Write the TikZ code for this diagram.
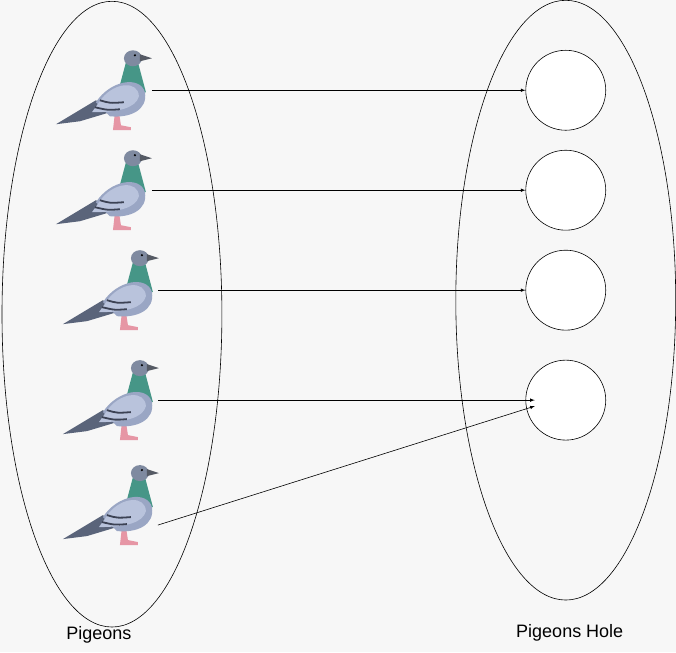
\documentclass[tikz,border=0pt]{standalone}
\usepackage{fontspec}
\setmainfont{Liberation Sans}
\usetikzlibrary{shapes.geometric}
\definecolor{bg}{RGB}{247,247,247}
\definecolor{ptail}{RGB}{90,100,122}
\definecolor{pleg}{RGB}{230,150,165}
\definecolor{pbody}{RGB}{154,166,196}
\definecolor{pneck}{RGB}{70,150,135}
\definecolor{phead}{RGB}{127,138,160}
\definecolor{pbeak}{RGB}{85,90,100}
\definecolor{pwing}{RGB}{185,195,220}
\definecolor{pstripe}{RGB}{60,66,84}
\begin{document}
\begin{tikzpicture}[x=1pt,y=-1pt,
  conn/.style={-latex,black,line width=0.6pt},
  hole/.style={draw,circle,minimum size=80pt,inner sep=0pt,fill=white,line width=0.6pt},
  lbl/.style={font=\fontsize{18}{20}\selectfont},
  pigeon/.pic={
    \fill[ptail] (56,124)--(96,100)--(110,112)--(80,121)--cycle;
    \fill[pleg] (119,112)--(121,125)--(131,127)--(131,130)--(113,130)--(115,112)--cycle;
    \fill[pneck] (126,62)--(138,62)--(146,92)--(118,92)--cycle;
    \fill[pbody] (96,102) .. controls (110,80) and (140,75) .. (145,92) .. controls (148,110) and (130,118) .. (110,116) -- cycle;
    \fill[phead] (133,58) ellipse[x radius=9,y radius=8];
    \fill[pbeak] (140,54)--(152,58)--(140,61)--cycle;
    \fill[black] (135,55) circle[radius=1.2];
    \fill[pwing] (102,98) .. controls (115,82) and (138,80) .. (139,96) .. controls (136,108) and (118,112) .. (92,112) -- cycle;
    \draw[line width=1.8pt,pstripe] (100,100) .. controls (110,103) .. (124,102);
    \draw[line width=1.8pt,pstripe] (95,107) .. controls (108,110) .. (120,109);
  }]
\fill[bg] (0,0) rectangle (676,652);
\node[draw,ellipse,minimum width=220pt,minimum height=626pt,line width=0.6pt] (pe) at (112,314) {};
\node[draw,ellipse,minimum width=220pt,minimum height=600pt,line width=0.6pt] (he) at (566,300) {};
\node[hole] (h1) at (566,90) {};
\node[hole] (h2) at (566,190) {};
\node[hole] (h3) at (566,290) {};
\node[hole] (h4) at (566,400) {};
\pic at (0,0) {pigeon};
\pic at (0,100) {pigeon};
\pic at (7,200) {pigeon};
\pic at (7,310) {pigeon};
\pic at (7,415) {pigeon};
\coordinate (p1) at (152,90);
\coordinate (p2) at (152,190);
\coordinate (p3) at (158,290);
\coordinate (p4) at (158,400);
\coordinate (p5) at (158,525);
\coordinate (t4) at (535,400);
\coordinate (t5) at (535,406);
\draw[conn] (p1) -- (h1.west);
\draw[conn] (p2) -- (h2.west);
\draw[conn] (p3) -- (h3.west);
\draw[conn] (p4) -- (t4);
\draw[conn] (p5) -- (t5);
\node[lbl] (l1) at (99,635) {Pigeons};
\node[lbl] (l2) at (570,633) {Pigeons Hole};
\end{tikzpicture}
\end{document}
